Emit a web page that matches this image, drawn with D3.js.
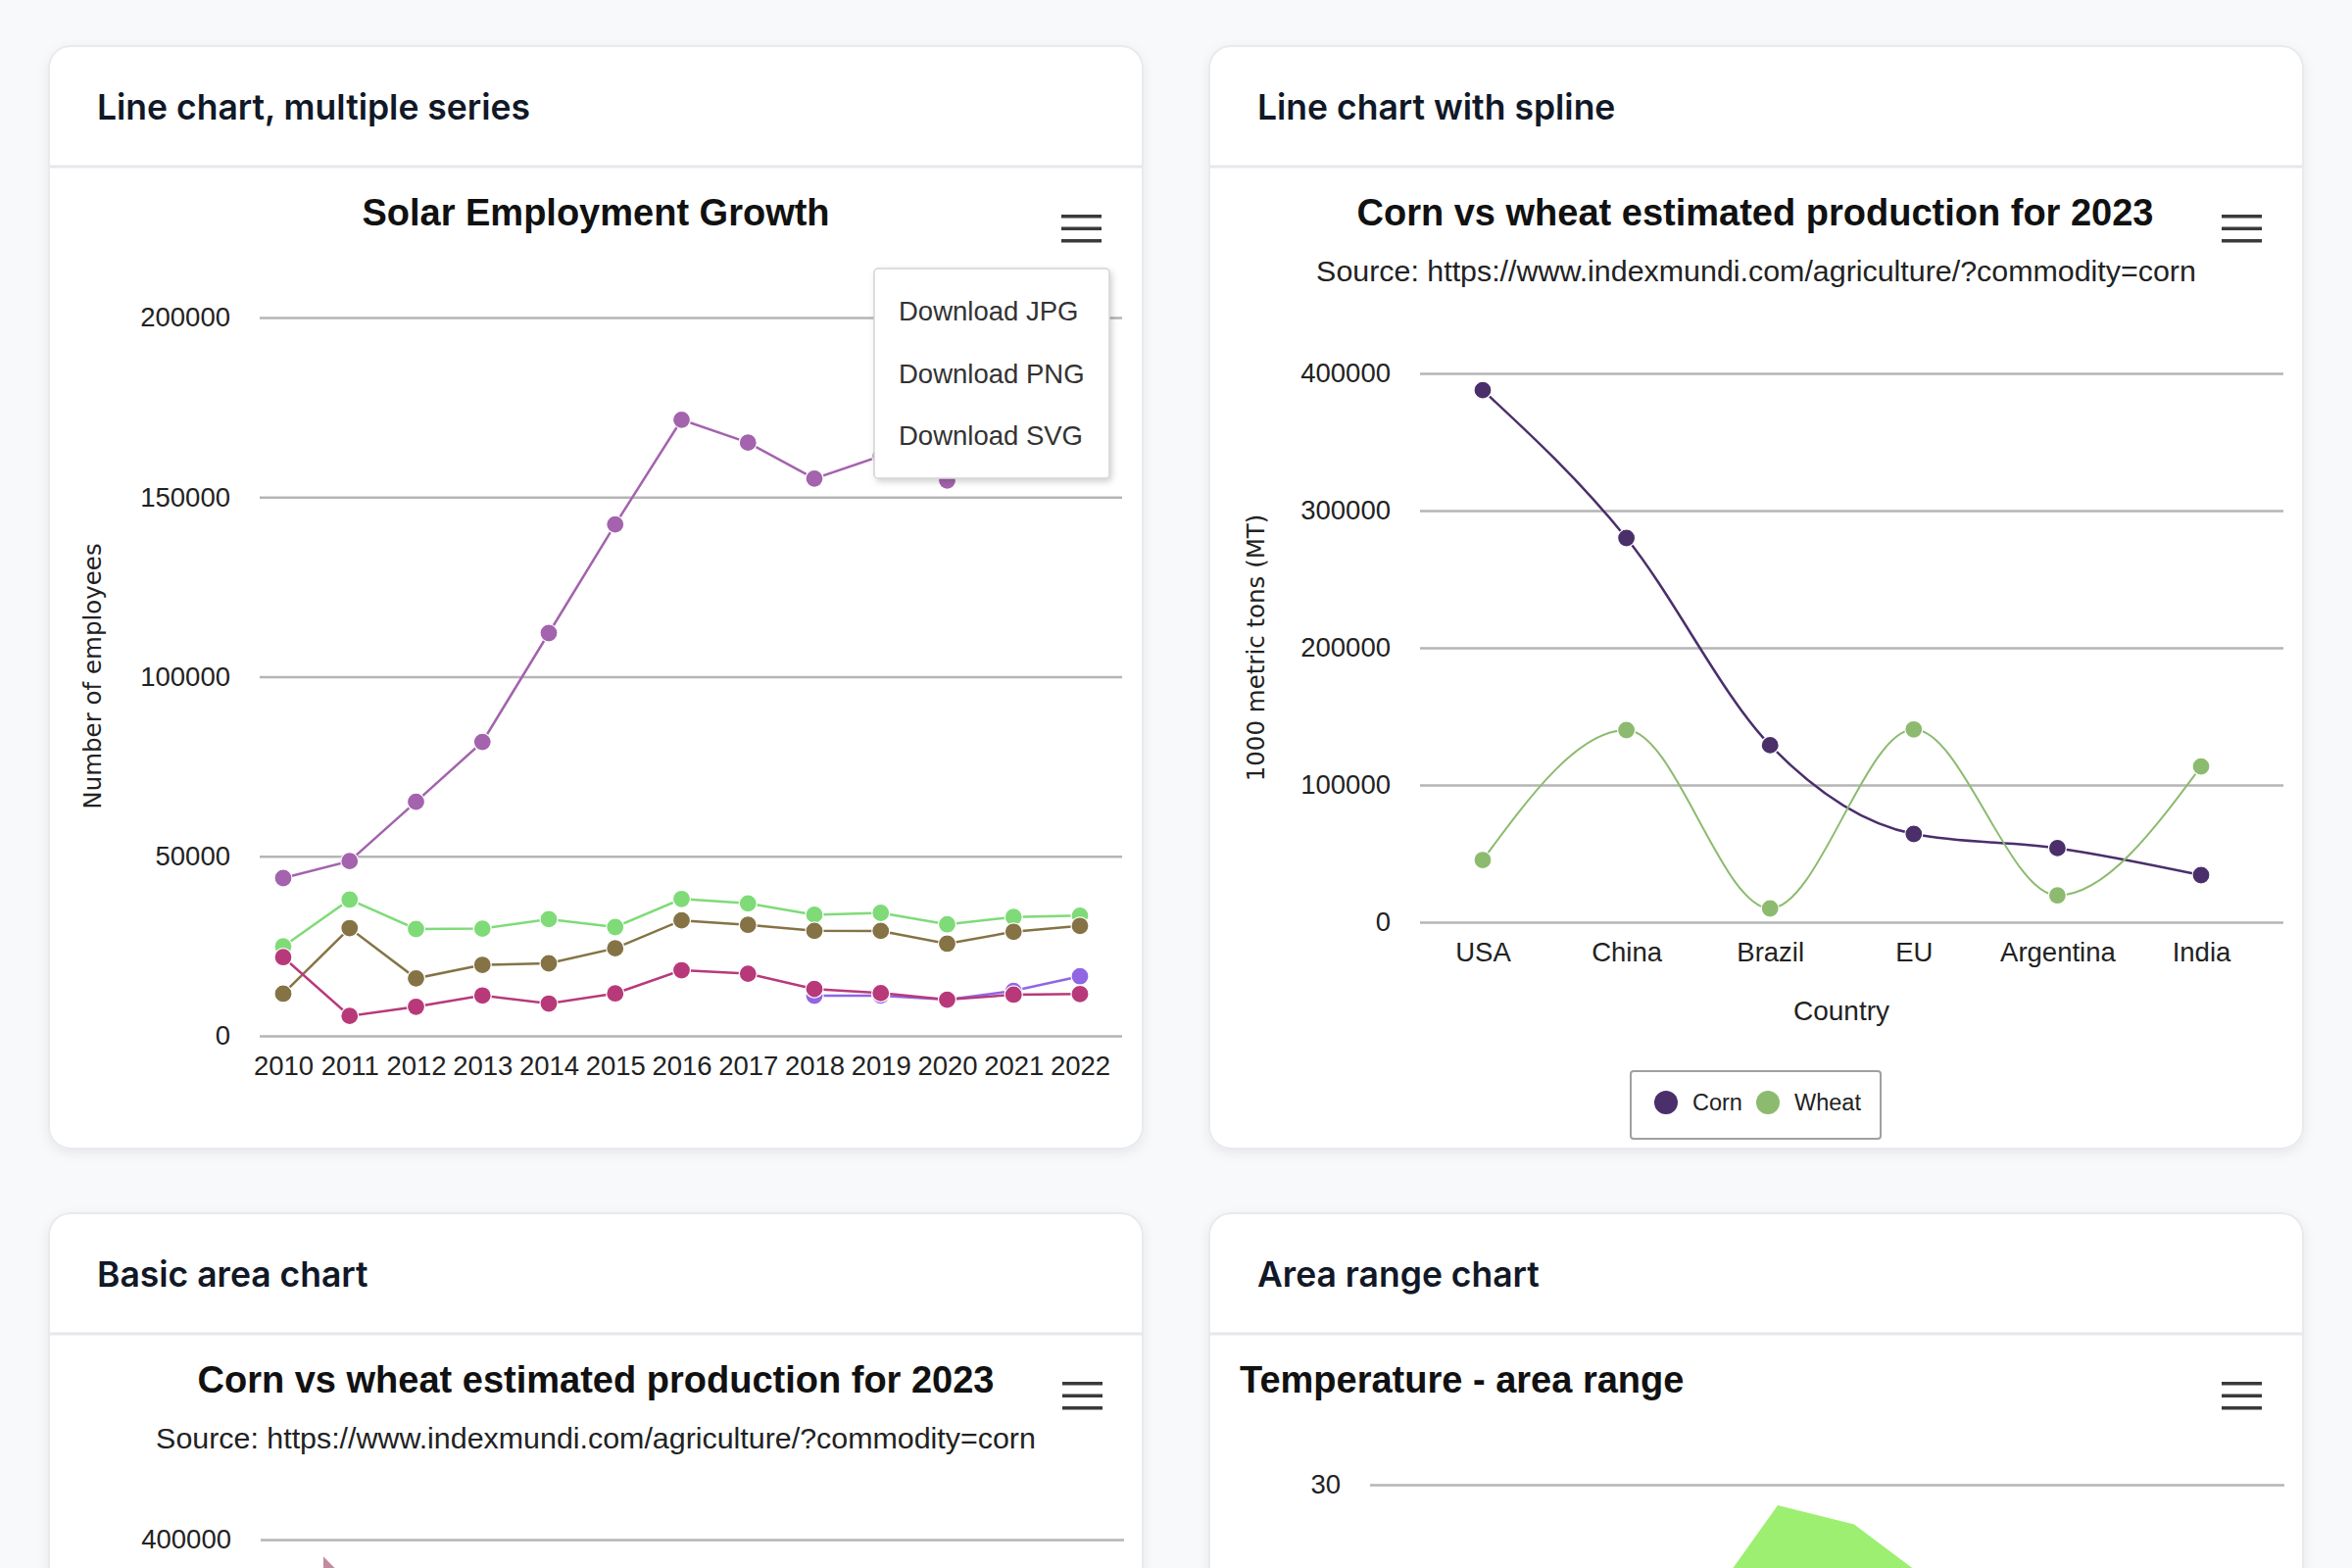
<!DOCTYPE html>
<html>
<head>
<meta charset="utf-8">
<script src="https://cdn.jsdelivr.net/npm/d3@7"></script>
<style>
  html, body { margin: 0; padding: 0; background: #f8f9fb; }
  svg { display: block; }
</style>
</head>
<body>
<div id="page"></div>
<script>
// chart data
const years = ["2010", "2011", "2012", "2013", "2014", "2015", "2016", "2017", "2018", "2019", "2020", "2021", "2022"]
const installation = [43934, 48656, 65165, 81827, 112143, 142383, 171533, 165174, 155157, 161454, 154610, 168960, 171558]
const manufacturing = [24916, 37941, 29742, 29851, 32490, 30282, 38121, 36885, 33726, 34243, 31050, 33099, 33473]
const sales = [11744, 30000, 16005, 19771, 20185, 24377, 32147, 30912, 29243, 29213, 25663, 28978, 30618]
const operations = [null, null, null, null, null, null, null, null, 11164, 11218, 10077, 12530, 16585]
const other = [21908, 5548, 8105, 11248, 8989, 11816, 18274, 17300, 13053, 11906, 10073, 11471, 11648]
const solarTicks = [0, 50000, 100000, 150000, 200000]

const countries = ["USA", "China", "Brazil", "EU", "Argentina", "India"]
const corn = [387749, 280000, 129000, 64300, 54000, 34300]
const wheat = [45321, 140000, 10000, 140500, 19500, 113500]
const cropTicks = [0, 100000, 200000, 300000, 400000]

const months = ["Jan", "Feb", "Mar", "Apr", "May", "Jun", "Jul", "Aug", "Sep", "Oct", "Nov", "Dec"]
const tempHigh = [2, 4, 9, 14, 21.3, 28.6, 27.3, 23.4, 18, 12, 6, 3]
const tempLow = [-4, -3, 1, 5, 9, 14, 16, 15, 11, 6, 1, -3]
const tempTicks = [0, 10, 20, 30]

const menuItems = ["Download JPG", "Download PNG", "Download SVG"]

const W = 2400, H = 1600
const chartFont = "'Liberation Sans', Arial, Helvetica, sans-serif"
const wideFont = "'DejaVu Sans', Verdana, sans-serif"

const svg = d3.select("#page").append("svg")
    .attr("width", W)
    .attr("height", H)
    .attr("viewBox", [0, 0, W, H])

const defs = svg.append("defs")
defs.append("filter").attr("id", "cardShadow")
    .attr("x", "-5%").attr("y", "-5%").attr("width", "110%").attr("height", "110%")
    .append("feDropShadow")
    .attr("dx", 0).attr("dy", 4).attr("stdDeviation", 6)
    .attr("flood-color", "#000").attr("flood-opacity", 0.07)
defs.append("filter").attr("id", "menuShadow")
    .attr("x", "-10%").attr("y", "-10%").attr("width", "125%").attr("height", "125%")
    .append("feDropShadow")
    .attr("dx", 2).attr("dy", 3).attr("stdDeviation", 3)
    .attr("flood-color", "#000").attr("flood-opacity", 0.18)

svg.append("rect").attr("width", W).attr("height", H).attr("fill", "#f8f9fb")

// cards
const cards = [
    {x: 50, y: 47, header: "Line chart, multiple series"},
    {x: 1234, y: 47, header: "Line chart with spline"},
    {x: 50, y: 1238, header: "Basic area chart"},
    {x: 1234, y: 1238, header: "Area range chart"}
]
const cardW = 1116, cardH = 1125

cards.forEach(c => {
    const g = svg.append("g").attr("transform", `translate(${c.x},${c.y})`)
    g.append("rect")
        .attr("width", cardW).attr("height", cardH).attr("rx", 22)
        .attr("fill", "#fff").attr("stroke", "#e8eaee").attr("stroke-width", 2)
        .attr("filter", "url(#cardShadow)")
    g.append("line")
        .attr("x1", 1).attr("x2", cardW - 1).attr("y1", 123).attr("y2", 123)
        .attr("stroke", "#e6e7eb").attr("stroke-width", 3)
    g.append("text")
        .attr("x", 49).attr("y", 75)
        .attr("font-family", "Inter, 'Noto Sans', sans-serif")
        .attr("font-weight", 600)
        .attr("font-size", 35.5)
        .attr("fill", "#111827")
        .text(c.header)
})

function hamburger(x, y) {
    const g = svg.append("g").attr("transform", `translate(${x},${y})`)
    g.selectAll("rect").data([0, 1, 2]).enter().append("rect")
        .attr("x", 0).attr("y", d => d * 12.5).attr("width", 41).attr("height", 3.5)
        .attr("fill", "#3a3a3a")
}

function title(x, y, txt, anchor) {
    svg.append("text")
        .attr("x", x).attr("y", y)
        .attr("text-anchor", anchor || "middle")
        .attr("font-family", chartFont).attr("font-weight", "bold")
        .attr("font-size", 38).attr("fill", "#111")
        .text(txt)
}

function subtitle(x, y, txt) {
    svg.append("text")
        .attr("x", x).attr("y", y)
        .attr("text-anchor", "middle")
        .attr("font-family", chartFont)
        .attr("font-size", 30.4).attr("fill", "#222")
        .text(txt)
}

// only ticks that fall inside the page are drawn (lower cards are cut at the bottom)
function yAxis(y, ticks, x0, x1) {
    const axis = d3.axisLeft(y)
        .tickValues(ticks.filter(t => y(t) < H - 10))
        .tickSize(-(x1 - x0))
        .tickPadding(30)
        .tickFormat(d3.format("d"))
    const a = svg.append("g")
        .attr("transform", `translate(${x0},0)`)
        .call(axis)
        .attr("font-family", chartFont)
        .attr("font-size", 27.5)
    a.select(".domain").remove()
    a.selectAll(".tick line").attr("stroke", "#b5b5b5").attr("stroke-width", 2.5)
    a.selectAll(".tick text").attr("fill", "#222")
    return a
}

function xAxis(x, y0) {
    const a = svg.append("g")
        .attr("transform", `translate(0,${y0})`)
        .call(d3.axisBottom(x).tickSize(0).tickPadding(20))
        .attr("font-family", chartFont)
        .attr("font-size", 27.5)
    a.select(".domain").remove()
    a.selectAll(".tick text").attr("fill", "#222")
}

function axisTitle(x, y, txt) {
    svg.append("text")
        .attr("transform", `translate(${x},${y}) rotate(-90)`)
        .attr("text-anchor", "middle")
        .attr("font-family", wideFont)
        .attr("font-size", 24.5).attr("fill", "#222")
        .text(txt)
}

function lineSeries(x, y, cats, values, color, width, curve) {
    const pts = cats.map((c, i) => ({c: c, v: values[i]})).filter(d => d.v !== null)
    const line = d3.line().x(d => x(d.c)).y(d => y(d.v)).curve(curve || d3.curveLinear)
    const g = svg.append("g")
    g.append("path").datum(pts)
        .attr("d", line).attr("fill", "none")
        .attr("stroke", color).attr("stroke-width", width)
    g.selectAll("circle").data(pts).enter().append("circle")
        .attr("cx", d => x(d.c)).attr("cy", d => y(d.v)).attr("r", 9)
        .attr("fill", color).attr("stroke", "#fff").attr("stroke-width", 1.2)
}

// ---- chart 1: Solar Employment Growth
{
    const x = d3.scalePoint().domain(years).range([289, 1102])
    const y = d3.scaleLinear().domain([0, 200000]).range([1057, 324])
    title(608, 230, "Solar Employment Growth")
    hamburger(1083, 219)
    yAxis(y, solarTicks, 265, 1145)
    xAxis(x, 1057)
    axisTitle(103, 690, "Number of employees")
    lineSeries(x, y, years, installation, "#a363ad", 2.5)
    lineSeries(x, y, years, manufacturing, "#7fdb78", 2.5)
    lineSeries(x, y, years, sales, "#857346", 2.5)
    lineSeries(x, y, years, operations, "#9066e4", 2.5)
    lineSeries(x, y, years, other, "#b8397a", 2.5)

    // open export menu
    const m = svg.append("g").attr("transform", "translate(892,274)")
    m.append("rect").attr("width", 240).attr("height", 214).attr("rx", 4)
        .attr("fill", "#fff").attr("stroke", "#d4d4d4").attr("stroke-width", 1.5)
        .attr("filter", "url(#menuShadow)")
    m.selectAll("text").data(menuItems).enter().append("text")
        .attr("x", 25).attr("y", (d, i) => 53 + i * 63.5)
        .attr("font-family", chartFont).attr("font-size", 27.5).attr("fill", "#333")
        .text(d => d)
}

// ---- chart 2: spline
{
    const x = d3.scalePoint().domain(countries).range([1513, 2246])
    const y = d3.scaleLinear().domain([0, 400000]).range([941, 381])
    title(1791, 230, "Corn vs wheat estimated production for 2023")
    subtitle(1792, 287, "Source: https://www.indexmundi.com/agriculture/?commodity=corn")
    hamburger(2267, 219)
    yAxis(y, cropTicks, 1449, 2330)
    xAxis(x, 941)
    axisTitle(1290, 661, "1000 metric tons (MT)")
    svg.append("text")
        .attr("x", 1879).attr("y", 1041).attr("text-anchor", "middle")
        .attr("font-family", chartFont).attr("font-size", 28).attr("fill", "#222")
        .text("Country")
    lineSeries(x, y, countries, corn, "#4a2f6b", 2.5, d3.curveMonotoneX)
    lineSeries(x, y, countries, wheat, "#8cbb6f", 2, d3.curveMonotoneX)

    // legend
    const lg = svg.append("g").attr("transform", "translate(1664,1093)")
    lg.append("rect").attr("width", 255).attr("height", 69).attr("rx", 3)
        .attr("fill", "#fff").attr("stroke", "#a0a0a0").attr("stroke-width", 2)
    const items = [{name: "Corn", color: "#4a2f6b", dx: 36}, {name: "Wheat", color: "#8cbb6f", dx: 140}]
    const it = lg.selectAll("g.item").data(items).enter().append("g")
        .attr("transform", d => `translate(${d.dx},32)`)
    it.append("circle").attr("r", 12).attr("fill", d => d.color)
    it.append("text").attr("x", 27).attr("y", 8)
        .attr("font-family", chartFont).attr("font-size", 23.5).attr("fill", "#222")
        .text(d => d.name)
}

// ---- chart 3: basic area (top only visible)
{
    const x = d3.scalePoint().domain(countries).range([330, 1063])
    const y = d3.scaleLinear().domain([0, 400000]).range([2131, 1571])
    title(608, 1421, "Corn vs wheat estimated production for 2023")
    subtitle(608, 1478, "Source: https://www.indexmundi.com/agriculture/?commodity=corn")
    hamburger(1084, 1410)
    yAxis(y, cropTicks, 266, 1147)
    const area = d3.area().x((d, i) => x(countries[i])).y0(y(0)).y1(d => y(d))
    svg.append("path").datum(corn).attr("d", area).attr("fill", "#c28c9c")
    svg.append("path").datum(wheat).attr("d", area).attr("fill", "#b9d4a8").attr("opacity", 0.8)
}

// ---- chart 4: area range
{
    const x = d3.scalePoint().domain(months).range([1424, 2282])
    const y = d3.scaleLinear().domain([0, 30]).range([1965, 1515])
    title(1265, 1421, "Temperature - area range", "start")
    hamburger(2267, 1410)
    yAxis(y, tempTicks, 1398, 2331)
    const band = d3.area()
        .x((d, i) => x(months[i]))
        .y0((d, i) => y(tempLow[i]))
        .y1(d => y(d))
    svg.append("path").datum(tempHigh).attr("d", band).attr("fill", "#9def72")
}
</script>
</body>
</html>
